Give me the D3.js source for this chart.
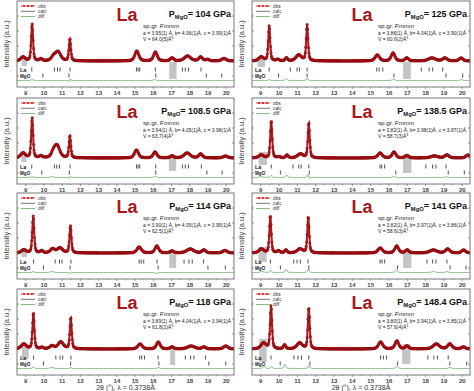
<!DOCTYPE html>
<html><head><meta charset="utf-8">
<script src="https://cdn.jsdelivr.net/npm/d3@7/dist/d3.min.js"></script>
<style>
html,body{margin:0;padding:0;background:#fff;}
svg{display:block;font-family:"Liberation Sans",Arial,sans-serif;}
</style></head>
<body><svg id="chart" width="474" height="391"></svg>
<script>
// ---------------- data ----------------
const xTickValues = [9,10,11,12,13,14,15,16,17,18,19,20];
const pressures = ["104","108.5","114","118","125","138.5","141","148.4"];
const latticeA = ["3.95(1)","3.94(1)","3.90(1)","3.89(1)","3.86(1)","3.82(1)","3.82(1)","3.80(1)"];
const latticeB = ["4.06(1)","4.05(1)","4.05(1)","4.04(1)","4.04(1)","3.98(1)","3.97(1)","3.94(1)"];
const latticeC = ["3.99(1)","3.98(1)","3.95(1)","3.94(1)","3.90(1)","3.87(1)","3.86(1)","3.85(1)"];
const volumes  = ["64.0(5)","63.7(4)","62.5(1)","61.8(2)","60.6(2)","58.7(3)","58.6(3)","57.6(4)"];

// observed peaks: [2theta, intensity (a.u.), fwhm]
const peaks104 = [[8.88,4,0.28],[9.38,37,0.12],[9.86,2,0.18],[10.55,4,0.28],[10.8,9,0.35],[11.45,22,0.12],[15.12,10,0.26],[16.14,9,0.24],[17.05,3,0.22],[17.9,5,0.4],[18.62,4,0.24],[19.0,1.5,0.2],[19.9,2.5,0.28]];
const peaks108 = [[8.88,5,0.3],[9.38,40,0.12],[9.86,2,0.18],[10.55,5,0.28],[10.75,12,0.35],[11.45,22,0.12],[15.1,8,0.26],[16.12,6,0.24],[17.05,2,0.22],[17.88,5,0.4],[18.62,4,0.24],[19.98,2,0.28]];
const peaks114 = [[8.92,3,0.3],[9.44,37,0.12],[9.9,2,0.18],[10.5,4,0.28],[10.9,5,0.35],[11.48,27,0.12],[15.25,6,0.28],[16.22,7,0.24],[17.05,2,0.22],[18.05,4,0.45],[18.8,3,0.24],[19.95,2.5,0.28]];
const peaks118 = [[8.92,5,0.32],[9.45,36,0.12],[9.92,1.5,0.18],[10.47,3,0.28],[10.95,7,0.35],[11.5,31,0.12],[15.3,5,0.28],[16.3,7,0.24],[17.05,2,0.22],[18.1,3,0.45],[18.8,2,0.24],[20.0,3,0.28]];
const peaks125 = [[9.05,4,0.3],[9.49,35,0.12],[9.95,1.5,0.18],[10.43,3,0.15],[11.1,6,0.35],[11.56,36,0.12],[15.39,6,0.28],[16.25,8,0.24],[17.0,3,0.22],[18.37,3,0.45],[19.08,3,0.28],[19.96,3,0.24]];
const peaks138 = [[9.05,3,0.3],[9.6,37,0.12],[10.02,1,0.18],[10.46,3,0.15],[11.19,4,0.35],[11.65,35,0.12],[15.54,5,0.28],[16.3,6,0.24],[17.0,2.5,0.22],[18.5,2,0.45],[19.19,3,0.28],[20.33,3,0.24]];
const peaks141 = [[9.06,4,0.3],[9.55,37,0.12],[10.0,2,0.18],[10.4,3,0.15],[11.17,4,0.35],[11.62,36,0.12],[15.55,5,0.28],[16.45,7,0.24],[17.02,3,0.22],[18.45,3,0.45],[19.23,4,0.28],[20.1,3,0.24]];
const peaks148 = [[9.18,6,0.32],[9.59,43,0.12],[10.33,4,0.15],[11.15,6,0.35],[11.65,41,0.12],[15.57,7,0.28],[16.46,8,0.24],[17.01,3,0.22],[18.61,5,0.4],[19.35,5,0.28],[20.09,2,0.24]];

// Bragg reflection ticks
const laTicks104 = [9.36,10.6,10.77,10.91,11.46,15.1,15.19,15.28,16.14,17.62,17.78,17.95,18.64];
const mgoTicks104 = [9.97,11.4,16.16,18.93,19.78];
const laTicks108 = [9.36,10.6,10.73,10.88,11.46,15.1,15.19,15.28,16.16,17.62,17.78,17.95,18.66];
const mgoTicks108 = [9.91,11.42,16.16,18.96,19.8];
const laTicks114 = [9.46,10.64,10.88,11.02,11.51,15.25,15.36,15.5,16.23,17.71,17.98,18.16,18.78];
const mgoTicks114 = [10.0,11.46,16.29,19.02,19.97];
const laTicks118 = [9.46,10.68,10.91,11.06,11.51,15.28,15.39,15.54,16.29,17.78,18.07,18.25,18.89];
const mgoTicks118 = [10.0,11.49,16.33,19.07,20.0];
const laTicks125 = [9.49,10.64,11.01,11.14,11.56,15.36,15.49,15.69,17.79,18.22,18.41,18.96];
const mgoTicks125 = [10.0,11.56,16.3,19.14,20.05];
const laTicks138 = [9.6,10.79,11.1,11.23,11.65,15.54,15.63,15.79,18.04,18.41,18.59,19.14];
const mgoTicks138 = [10.1,11.68,16.4,19.26,20.14];
const laTicks141 = [9.55,10.83,11.01,11.19,11.61,15.54,15.65,15.79,18.1,18.41,18.59,19.19];
const mgoTicks141 = [10.1,11.65,16.49,19.36,20.23];
const laTicks148 = [9.59,10.84,11.06,11.25,11.65,15.57,15.72,15.89,18.15,18.48,18.67,19.26];
const mgoTicks148 = [10.09,11.71,16.5,19.35,20.27];

// difference curve features: [2theta, amplitude, width]
const diff104 = [[9.38,1.5,0.1],[11.42,-1.5,0.06],[11.47,2,0.06],[16.1,1,0.15]];
const diff108 = [[9.38,1,0.1],[10.5,1,0.2],[11.42,-1.2,0.06],[11.47,1.5,0.06],[16.12,1.2,0.15]];
const diff114 = [[9.44,1,0.1],[10.45,1,0.2],[11.45,-1.5,0.06],[11.5,1,0.06],[16.2,-1,0.15]];
const diff118 = [[9.45,1.5,0.1],[10.45,1.2,0.2],[11.5,1,0.1],[16.3,1,0.15]];
const diff125 = [[9.49,1,0.1],[10.42,2,0.12],[11.56,2,0.1],[16.27,1.5,0.15],[19.98,1,0.12]];
const diff138 = [[9.05,1,0.2],[9.6,2,0.1],[10.44,2.5,0.12],[11.6,3,0.1],[11.7,-1.5,0.08],[16.3,1,0.15],[19.2,0.8,0.15]];
const diff141 = [[9.1,1,0.2],[9.56,2.5,0.1],[10.42,3,0.12],[11.63,3.5,0.1],[16.42,2,0.15],[18.45,1,0.2],[19.2,1,0.15]];
const diff148 = [[9.2,2,0.15],[9.62,2,0.1],[10.35,4,0.12],[11.67,3,0.1],[16.47,2,0.15],[19.35,1,0.15]];

// excluded regions: [2theta from, 2theta to, top, bottom]
const excl104 = [[8.8,9.09,2,-5],[16.9,17.3,-1,-18]];
const excl108 = [[8.78,9.07,5,-4],[16.88,17.28,1,-13]];
const excl114 = [[8.8,9.09,5,-4],[16.9,17.28,0,-15]];
const excl118 = [[8.82,9.19,5,-10],[16.95,17.22,0,-16]];
const excl125 = [[8.86,9.27,4,-6],[16.8,17.22,-1,-18]];
const excl138 = [[8.91,9.37,6,-7],[16.8,17.25,3,-15]];
const excl141 = [[8.9,9.35,6,-9],[16.8,17.25,3,-15]];
const excl148 = [[8.94,9.35,10,-13],[16.75,17.2,5,-15]];

const panelPeaks = [peaks104,peaks108,peaks114,peaks118,peaks125,peaks138,peaks141,peaks148];
const panelLa = [laTicks104,laTicks108,laTicks114,laTicks118,laTicks125,laTicks138,laTicks141,laTicks148];
const panelMgO = [mgoTicks104,mgoTicks108,mgoTicks114,mgoTicks118,mgoTicks125,mgoTicks138,mgoTicks141,mgoTicks148];
const panelDiff = [diff104,diff108,diff114,diff118,diff125,diff138,diff141,diff148];
const panelExcl = [excl104,excl108,excl114,excl118,excl125,excl138,excl141,excl148];

// ---------------- drawing ----------------
const svg = d3.select("#chart");
const colX = [[17,234],[252,470]];
const rowTop = [1,98,193,289];
const frameH = 86;
const RED = "#cc1118", DARKRED = "#a8161c", GREEN = "#5aa55a";

function pv(x, p, h, w){
  const t = (x-p)/w;
  const L = 1/(1+4*t*t);
  const G = Math.exp(-4*Math.LN2*t*t);
  return h*(0.5*L+0.5*G);
}

for (let i=0;i<8;i++){
  const col = i<4?0:1, row = i%4;
  const [x0,x1] = colX[col];
  const top = rowTop[row], bot = top+frameH;
  const x = d3.scaleLinear().domain([8.55,20.45]).range([x0,x1]);
  const y = d3.scaleLinear().domain([-26,60]).range([bot,top]);
  const g = svg.append("g");
  const clipId = "clip"+i;
  svg.append("clipPath").attr("id",clipId).append("rect").attr("x",x0).attr("y",top).attr("width",x1-x0).attr("height",frameH);
  const pg = g.append("g").attr("clip-path",`url(#${clipId})`);

  // excluded regions
  pg.selectAll("rect.ex").data(panelExcl[i]).join("rect").attr("class","ex")
    .attr("x",d=>x(d[0])).attr("width",d=>x(d[1])-x(d[0]))
    .attr("y",d=>y(d[2])).attr("height",d=>y(d[3])-y(d[2]))
    .attr("fill","#c4c4c4");

  // sample grid
  const xs = d3.range(8.56,20.45,0.025);
  const prof = xs.map(v=>[v, d3.sum(panelPeaks[i], p=>pv(v,p[0],p[1],p[2]))]);
  const dif = xs.map(v=>[v, -19.5 + d3.sum(panelDiff[i], p=>pv(v,p[0],p[1],p[2]))]);
  const line = d3.line().x(d=>x(d[0])).y(d=>y(d[1]));

  pg.append("path").attr("d",line(dif)).attr("fill","none").attr("stroke",GREEN).attr("stroke-width",0.8);
  pg.append("path").attr("d",line(prof)).attr("fill","none").attr("stroke",RED).attr("stroke-width",2);
  pg.append("g").selectAll("circle").data(prof).join("circle")
    .attr("cx",d=>x(d[0])).attr("cy",d=>y(d[1])).attr("r",1.3)
    .attr("fill",RED).attr("stroke","#7a0508").attr("stroke-width",0.3);
  pg.append("path").attr("d",line(prof)).attr("fill","none").attr("stroke","#3a3a3a").attr("stroke-width",0.5).attr("opacity",0.8);

  // Bragg ticks
  pg.selectAll("line.la").data(panelLa[i]).join("line").attr("class","la")
    .attr("x1",d=>x(d)).attr("x2",d=>x(d)).attr("y1",y(-6.5)).attr("y2",y(-10.5))
    .attr("stroke","#222").attr("stroke-width",0.8);
  pg.selectAll("line.mg").data(panelMgO[i]).join("line").attr("class","mg")
    .attr("x1",d=>x(d)).attr("x2",d=>x(d)).attr("y1",y(-12.5)).attr("y2",y(-16.5))
    .attr("stroke","#222").attr("stroke-width",0.8);
  g.append("text").attr("x",x0+3).attr("y",y(-10.5)).attr("font-size",5.5).attr("font-weight","bold").attr("fill","#222").text("La");
  g.append("text").attr("x",x0+3).attr("y",y(-16.8)).attr("font-size",4.6).attr("font-weight","bold").attr("fill","#222").text("MgO");

  // frame
  g.append("rect").attr("x",x0).attr("y",top).attr("width",x1-x0).attr("height",frameH)
    .attr("fill","none").attr("stroke","#555").attr("stroke-width",0.8);
  // y minor ticks
  [-15,0,15,30,45].forEach(v=>{
    g.append("line").attr("x1",x0).attr("x2",x0+2).attr("y1",y(v)).attr("y2",y(v)).attr("stroke","#555").attr("stroke-width",0.6);
    g.append("line").attr("x1",x1-2).attr("x2",x1).attr("y1",y(v)).attr("y2",y(v)).attr("stroke","#555").attr("stroke-width",0.6);
  });
  // x axis
  const ax = g.append("g").attr("transform",`translate(0,${bot})`)
    .call(d3.axisBottom(x).tickValues(xTickValues).tickFormat(d3.format("d")).tickSize(2).tickPadding(1.5));
  ax.select(".domain").remove();
  ax.selectAll("line").attr("stroke","#555").attr("stroke-width",0.6);
  ax.selectAll("text").attr("font-size",6).attr("font-weight","bold").attr("fill","#444")
    .attr("font-family","Liberation Sans, Arial, sans-serif");
  g.selectAll("line.mx").data(d3.range(8.5,20.5,1).filter(v=>v>8.55)).join("line").attr("class","mx")
    .attr("x1",d=>x(d)).attr("x2",d=>x(d)).attr("y1",bot).attr("y2",bot+1.2).attr("stroke","#555").attr("stroke-width",0.5);

  // legend
  const lg = [["obs",RED],["calc","#555"],["diff",GREEN]];
  lg.forEach((d,k)=>{
    const ly = top+5+k*5.3;
    g.append("line").attr("x1",x0+4).attr("x2",x0+18).attr("y1",ly).attr("y2",ly).attr("stroke",d[1]).attr("stroke-width",0.8);
    if(k===0){
      [x0+7,x0+11,x0+15].forEach(cx=>g.append("circle").attr("cx",cx).attr("cy",ly).attr("r",1).attr("fill",RED));
    }
    g.append("text").attr("x",x0+21).attr("y",ly+1.6).attr("font-size",4.8).attr("fill","#333").text(d[0]);
  });

  // big La
  g.append("text").attr("x",x0+110).attr("y",top+20).attr("text-anchor","middle")
    .attr("font-size",18).attr("font-weight","bold").attr("fill",DARKRED).text("La");

  // pressure
  const pt = g.append("text").attr("x",x1-3).attr("y",top+16).attr("text-anchor","end")
    .attr("font-size",9).attr("font-weight","bold").attr("fill","#111");
  pt.append("tspan").text("P");
  pt.append("tspan").attr("font-size",5.8).attr("dy",2.2).text("MgO");
  pt.append("tspan").attr("dy",-2.2).text("= "+pressures[i]+" GPa");

  // cell info
  const tx = x0+126;
  const t1 = g.append("text").attr("x",tx).attr("y",top+27).attr("font-size",6.2).attr("fill","#222");
  t1.append("tspan").text("sp.gr. ");
  t1.append("tspan").attr("font-style","italic").text("Fmmm");
  g.append("text").attr("x",tx).attr("y",top+33.5).attr("font-size",5).attr("fill","#222")
    .attr("textLength",88).attr("lengthAdjust","spacingAndGlyphs")
    .text(`a = ${latticeA[i]} Å, b= ${latticeB[i]}Å, c = ${latticeC[i]}Å`);
  const t3 = g.append("text").attr("x",tx).attr("y",top+40).attr("font-size",5).attr("fill","#222");
  t3.append("tspan").text(`V = ${volumes[i]}Å`);
  t3.append("tspan").attr("font-size",3.4).attr("dy",-1.9).text("3");

  // y title
  g.append("text").attr("transform",`translate(${x0-8},${top+frameH/2}) rotate(-90)`)
    .attr("text-anchor","middle").attr("font-size",7.5).attr("fill","#444").text("Intensity (a.u.)");

  if(row===3){
    g.append("text").attr("x",(x0+x1)/2).attr("y",390).attr("text-anchor","middle")
      .attr("font-size",7).attr("fill","#333").text("2θ (°), λ = 0.3738Å");
  }
}
</script></body></html>
